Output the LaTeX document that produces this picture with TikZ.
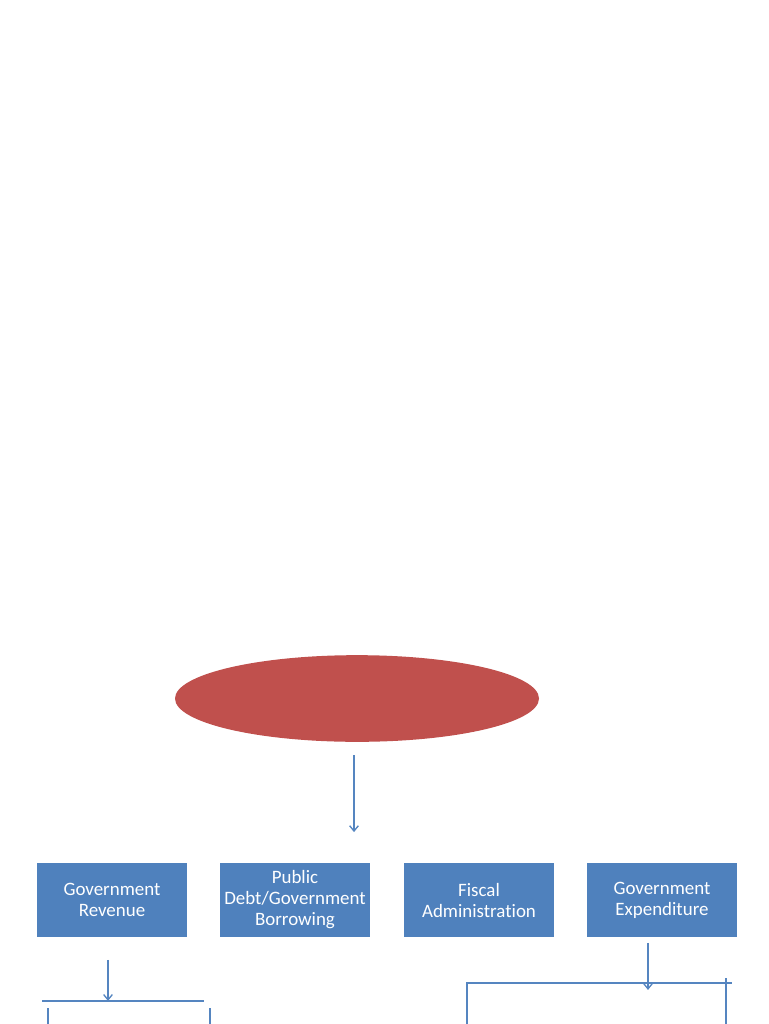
\documentclass[tikz,border=0pt]{standalone}
\usepackage{fontspec}
\setmainfont{Carlito}[Ligatures=NoCommon]
\usetikzlibrary{shapes.geometric}
\usetikzlibrary{positioning}
\usetikzlibrary{arrows.meta}
\definecolor{office-red}{HTML}{C0504D}
\definecolor{office-blue}{HTML}{4F81BD}
\definecolor{link-blue}{HTML}{5585C0}
\tikzset{
  topic-oval/.style={ellipse, fill=office-red, minimum width=273pt, minimum height=65pt, inner sep=0pt},
  topic-box/.style={rectangle, fill=office-blue, text=white, minimum width=112pt, minimum height=55pt,
    text width=110pt, align=center, inner sep=0pt, font=\fontsize{14.2}{15.75}\selectfont},
  link-path/.style={draw=link-blue, line width=1pt},
  link-tip/.style={-{Straight Barb[length=4pt, width=6.5pt]}},
}
\begin{document}
\begin{tikzpicture}[x=0.75pt, y=-0.75pt]
\useasboundingbox (0, 0) rectangle (768, 1024);
\node[topic-oval] at (357, 698.5) (finance) {};
\node[topic-box] at (112, 900) (revenue) {Government\\Revenue};
\node[topic-box] at (295, 900) (debt) {Public\\Debt/Government\\Borrowing};
\node[topic-box] at (479, 900) (admin) {Fiscal\\Administration};
\node[topic-box] at (662, 900) (expenditure) {Government\\Expenditure};
\draw[link-path, link-tip] (finance.south) ++(-3, 13) -- ++(0, 77);
% revenue branch
\coordinate (rev bar left) at (42, 1001);
\coordinate (rev bar right) at (204, 1001);
\draw[link-path, link-tip] (revenue.south) ++(-4, 23) -- ++(0, 41);
\draw[link-path] (rev bar left) -- (rev bar right);
\draw[link-path] (48, 1008) -- (48, 1024);
\draw[link-path] (210, 1008) -- (210, 1024);
% expenditure branch
\coordinate (exp bar left) at (467, 983);
\coordinate (exp bar right) at (732, 983);
\draw[link-path, link-tip] (expenditure.south) ++(-14, 6) -- ++(0, 47);
\draw[link-path] (exp bar left |- 0, 1024) -- (exp bar left) -- (exp bar right);
\draw[link-path] (726, 978) -- (726, 1024);
\end{tikzpicture}
\end{document}
